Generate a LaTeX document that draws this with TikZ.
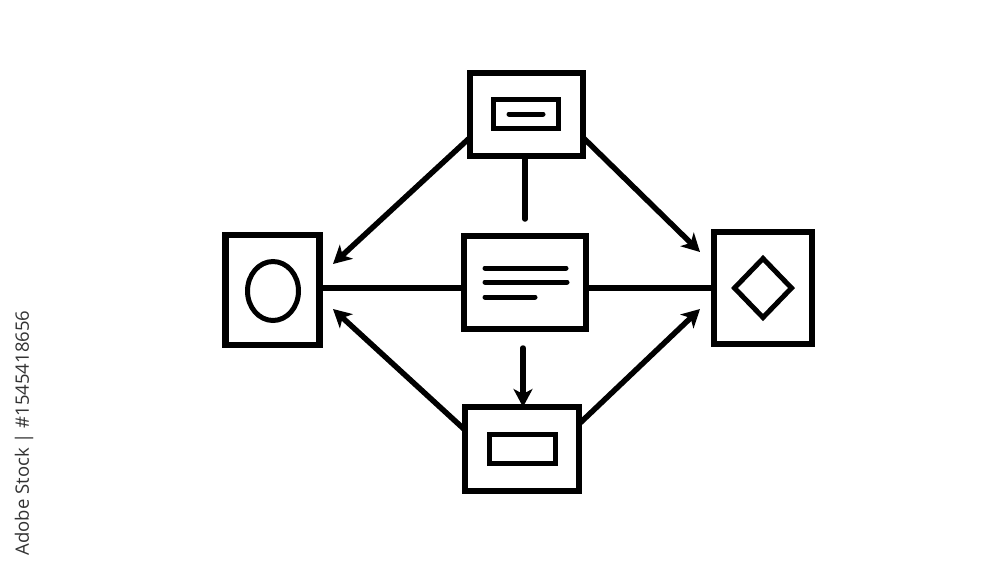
\documentclass[tikz,border=0pt]{standalone}
\usepackage{fontspec}
\newfontfamily\wmfont{Open Sans}
\usetikzlibrary{arrows.meta,calc,shapes.geometric}
\begin{document}
\begin{tikzpicture}[x=1pt,y=-1pt,
  box/.style={draw=black,line width=6.5pt,fill=white,inner sep=0pt,outer sep=0pt},
  inner/.style={draw=black,line width=5pt,inner sep=0pt,outer sep=0pt},
  conn/.style={line width=5.5pt,line cap=round},
  arr/.style={conn,-{Stealth[length=18pt,width=19pt,inset=5pt]}},
  bar/.style={line width=5pt,line cap=round}]
\useasboundingbox[fill=white] (0,0) rectangle (1000,560);
% boxes
\node[box,minimum width=113pt,minimum height=83pt] (top) at (526.5,114.5) {};
\node[box,minimum width=122pt,minimum height=93pt] (mid) at (525,282.5) {};
\node[box,minimum width=94pt,minimum height=110pt] (left) at (272.5,290) {};
\node[box,minimum width=98pt,minimum height=112pt] (right) at (763,288) {};
\node[box,minimum width=114pt,minimum height=84pt] (bot) at (522,449) {};
% inner shapes
\node[inner,minimum width=65pt,minimum height=29pt] (topin) at (526,114) {};
\draw[bar] (509,114) -- (543,114);
\node[inner,ellipse,minimum width=51pt,minimum height=59pt] (circ) at (273,291) {};
\node[inner,diamond,minimum width=57pt,minimum height=59pt] (dia) at (763,288) {};
\node[inner,minimum width=66pt,minimum height=29pt] (botin) at (522.5,449) {};
\draw[bar] (485,268) -- (566,268);
\draw[bar] (485,282) -- (567,282);
\draw[bar] (485,297) -- (535,297);
% connectors
\coordinate (hl) at (0,288);
\coordinate (vend) at (525,219);
\draw[conn] (vend |- top.south) -- (vend);
\coordinate (mstart) at (523,348);
\draw[arr] (mstart) -- (mstart |- bot.north);
\draw[conn] (left.east |- hl) -- (mid.west |- hl);
\draw[conn] (mid.east |- hl) -- (right.west |- hl);
\coordinate (e1) at (333,264);
\coordinate (e2) at (700,252);
\coordinate (e3) at (333,309);
\coordinate (e4) at (700,309);
\draw[arr] ($(top.west)+(0,23)$) -- (e1);
\draw[arr] ($(top.east)+(0,23)$) -- (e2);
\draw[arr] ($(bot.west)+(0,-19)$) -- (e3);
\draw[arr] ($(bot.east)+(0,-25)$) -- (e4);
% watermark id
\node[rotate=90,text=black!80,font=\wmfont\fontsize{18.5}{22}\selectfont,inner sep=0pt] (wm) at (24,433) {Adobe Stock | \#1545418656};
\end{tikzpicture}
\end{document}
